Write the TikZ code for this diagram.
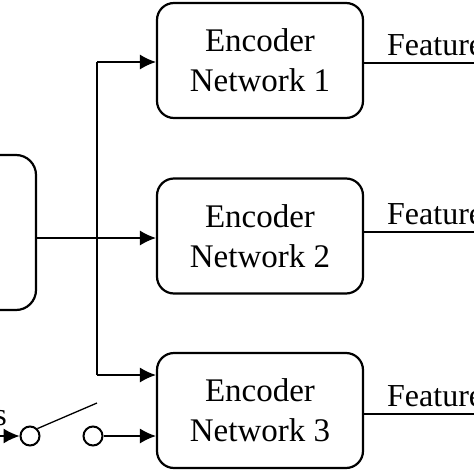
\documentclass[tikz,border=0pt]{standalone}
\usepackage{fontspec}
\setmainfont{Liberation Serif}
\usetikzlibrary{arrows.meta}
\begin{document}
\begin{tikzpicture}[x=1pt,y=-1pt,
  encbox/.style={draw,line width=2.2pt,rounded corners=17pt,minimum width=206pt,minimum height=115pt,align=center,inner sep=0pt,font=\fontsize{33}{40}\selectfont},
  conn/.style={line width=1.3pt},
  arr/.style={conn,-{Latex[length=16pt,width=15pt]}},
  lbl/.style={font=\fontsize{32}{38}\selectfont,inner sep=0pt},
  port/.style={draw,circle,line width=2pt,minimum size=19pt,inner sep=0pt}]
\useasboundingbox (0,0) rectangle (474,474);
\node[encbox] (box1) at (260,60.5) {Encoder\\Network 1};
\node[encbox] (box2) at (260,236) {Encoder\\Network 2};
\node[encbox] (box3) at (260,410.5) {Encoder\\Network 3};
\node[draw,line width=2.2pt,rounded corners=20pt,minimum width=140pt,minimum height=155pt] (left) at (-34,232.5) {};
% splitting lines
\coordinate (vt) at (97,62);
\coordinate (vb) at (97,375);
\draw[conn] (vt) -- (vb);
\draw[arr] (vt) -- (vt -| box1.west);
\draw[arr] (left.east |- 0,238) -- (box2.west |- 0,238);
\draw[arr] (vb) -- (vb -| box3.west);
% switch
\node[port] (p1) at (30,436) {};
\node[port] (p2) at (93,436) {};
\node[lbl,anchor=base east] (s) at (7,425) {s};
\coordinate (in) at (-2,436);
\draw[arr] (in) -- (p1.west);
\coordinate (sw) at (97,403);
\draw[conn] (p1.north east) -- (sw);
\draw[arr] (p2.east) -- (p2.east -| box3.west);
% features
\coordinate (f1) at (480,63);
\coordinate (f2) at (480,232);
\coordinate (f3) at (480,414);
\draw[conn] (box1.east |- f1) -- (f1);
\draw[conn] (box2.east |- f2) -- (f2);
\draw[conn] (box3.east |- f3) -- (f3);
\node[lbl,anchor=base west] (t1) at (387,55) {Features};
\node[lbl,anchor=base west] (t2) at (387,224) {Features};
\node[lbl,anchor=base west] (t3) at (387,406) {Features};
\end{tikzpicture}
\end{document}
